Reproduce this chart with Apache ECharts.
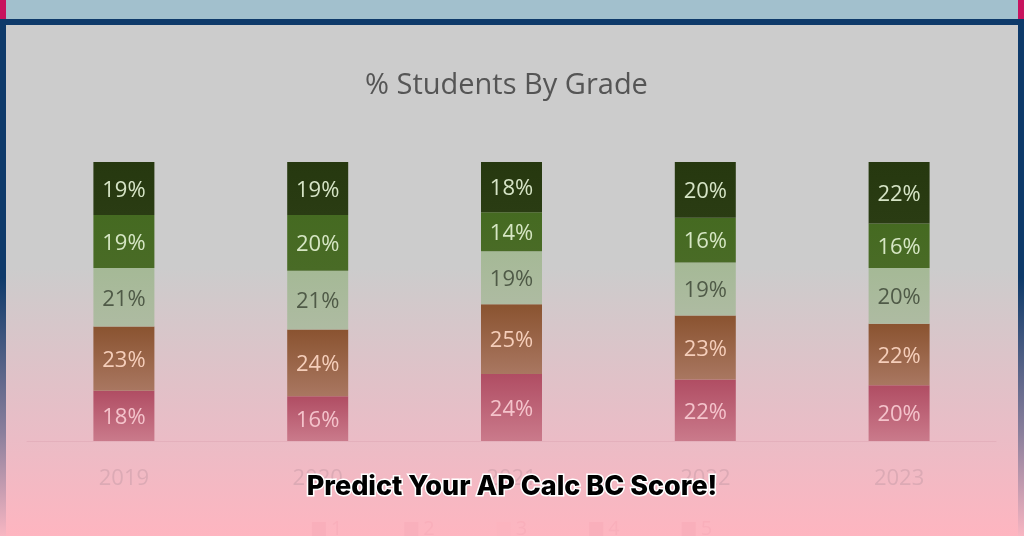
<!DOCTYPE html>
<html>
<head>
<meta charset="utf-8">
<script src="https://cdn.jsdelivr.net/npm/echarts@6/dist/echarts.min.js"></script>
<style>
html,body{margin:0;padding:0;background:#cccccc;}
#c{width:1024px;height:536px;}
</style>
</head>
<body>
<div id="c"></div>
<script>
const years = ['2019', '2020', '2021', '2022', '2023'];
const scoreNames = ['1', '2', '3', '4', '5'];
const score1 = [18, 16, 24, 22, 20];
const score2 = [23, 24, 25, 23, 22];
const score3 = [21, 21, 19, 19, 20];
const score4 = [19, 20, 14, 16, 16];
const score5 = [19, 19, 18, 20, 22];
const titleText = '% Students By Grade';
const bannerText = 'Predict Your AP Calc BC Score!';

const seriesData = [score1, score2, score3, score4, score5];
const barGrad = [
  ['#b04d63', '#ca7a8b'],
  ['#8a5330', '#a97761'],
  ['#a5b996', '#aebba2'],
  ['#456a21', '#496b26'],
  ['#26380f', '#2a3c13']
];
const labelColors = ['#f4c3cb', '#f5ceba', '#4f5a47', '#d6e6c4', '#d6e4c6'];
const legendIcon = ['#f9afbb', '#f9b0bc', '#fcb4bf', '#f9afbb', '#f9afbb'];

function vgrad(a, b) {
  return new echarts.graphic.LinearGradient(0, 0, 0, 1, [
    { offset: 0, color: a }, { offset: 1, color: b }
  ]);
}

const chart = echarts.init(document.getElementById('c'));
const series = seriesData.map((d, i) => ({
  name: scoreNames[i],
  type: 'bar',
  stack: 'total',
  data: d,
  barWidth: 61,
  itemStyle: { color: vgrad(barGrad[i][0], barGrad[i][1]) },
  label: {
    show: true,
    position: 'inside',
    offset: [0, 2],
    formatter: '{c}%',
    color: labelColors[i],
    fontSize: 22,
    fontFamily: 'Open Sans',
    textBorderWidth: 0
  }
}));

chart.setOption({
  backgroundColor: 'transparent',
  animation: false,
  title: {
    text: titleText,
    left: 360,
    top: 66,
    textStyle: { fontFamily: 'Open Sans', fontSize: 29, fontWeight: 'normal', color: '#555555' }
  },
  legend: {
    data: scoreNames.map((n, i) => ({ name: n, itemStyle: { color: legendIcon[i] } })),
    bottom: -8,
    left: 'center',
    itemGap: 62,
    itemWidth: 14,
    itemHeight: 14,
    icon: 'rect',
    textStyle: { fontFamily: 'Open Sans', fontSize: 20, color: '#f9afbb' }
  },
  grid: { left: 27, right: 28, top: 162, bottom: 95 },
  xAxis: {
    type: 'category',
    data: years,
    axisLine: { lineStyle: { color: '#e4b0bc', width: 1 } },
    axisTick: { show: false },
    axisLabel: { fontFamily: 'Open Sans', fontSize: 22, color: '#dcaab5', margin: 27 }
  },
  yAxis: { type: 'value', min: 0, max: 100, show: false, splitLine: { show: false } },
  graphic: [
    { type: 'rect', z: -10, silent: true, shape: { x: 0, y: 0, width: 1024, height: 536 },
      style: { fill: new echarts.graphic.LinearGradient(0, 0, 0, 1, [
        { offset: 0, color: '#cccccc' }, { offset: 0.5, color: '#cccccc' },
        { offset: 0.82, color: '#ebbcc6' }, { offset: 1, color: '#feb5c0' }]) } },
    { type: 'rect', z: 50, silent: true, shape: { x: 0, y: 0, width: 1024, height: 19 }, style: { fill: '#a2c0cd' } },
    { type: 'rect', z: 50, silent: true, shape: { x: 0, y: 19, width: 1024, height: 6 }, style: { fill: '#0e3a6a' } },
    { type: 'rect', z: 51, silent: true, shape: { x: 0, y: 0, width: 6, height: 19 }, style: { fill: '#c8135e' } },
    { type: 'rect', z: 51, silent: true, shape: { x: 1018, y: 0, width: 6, height: 19 }, style: { fill: '#c8135e' } },
    { type: 'rect', z: 50, silent: true, shape: { x: 0, y: 19, width: 6, height: 517 },
      style: { fill: new echarts.graphic.LinearGradient(0, 0, 0, 1, [
        { offset: 0, color: '#0e3a6a' }, { offset: 0.5, color: '#0e3a6a' },
        { offset: 0.8, color: '#8a7f9c' }, { offset: 1, color: '#f8b6c2' }]) } },
    { type: 'rect', z: 50, silent: true, shape: { x: 1018, y: 19, width: 6, height: 517 },
      style: { fill: new echarts.graphic.LinearGradient(0, 0, 0, 1, [
        { offset: 0, color: '#0e3a6a' }, { offset: 0.5, color: '#0e3a6a' },
        { offset: 0.8, color: '#8a7f9c' }, { offset: 1, color: '#f8b6c2' }]) } },
    { type: 'text', z: 100, silent: true, left: 'center', top: 472,
      style: { text: bannerText, font: '800 27px Inter', fill: '#000000', stroke: '#ffffff', lineWidth: 3 } }
  ],
  series: series
});
</script>
</body>
</html>
